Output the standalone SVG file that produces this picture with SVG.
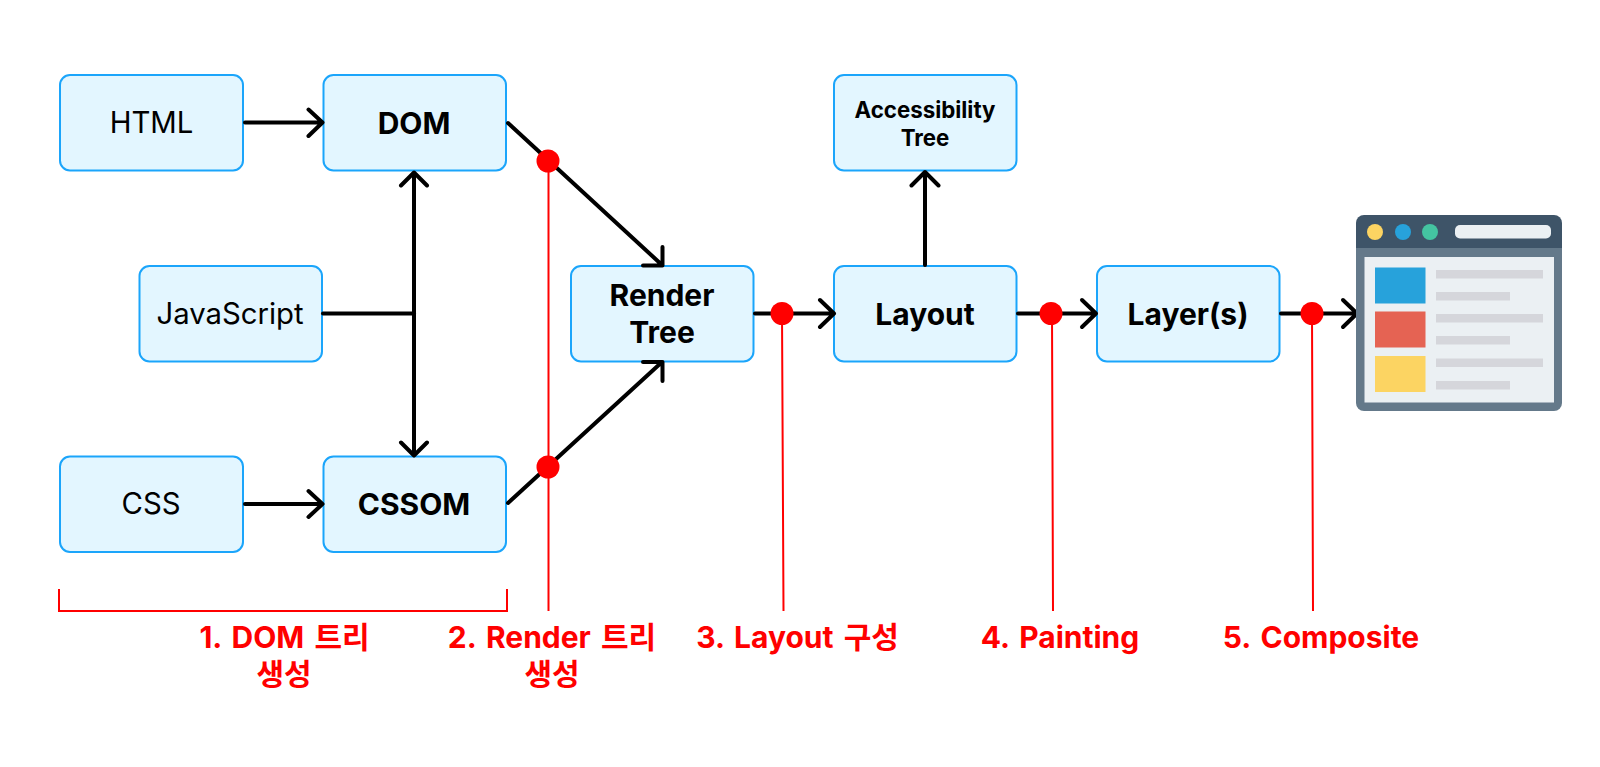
<svg xmlns="http://www.w3.org/2000/svg" width="1600" height="767" viewBox="0 0 1600 767">
<style>
.box{fill:#e3f6ff;stroke:#1ba5fb;stroke-width:2}
.t{font-family:Inter,"Noto Sans CJK KR",sans-serif;text-anchor:middle;fill:#000}
.r{font-size:29.300px}
.b{font-size:30px;font-weight:700}
.s{font-size:22.300px;font-weight:700}
.lab{font-family:Inter,"Noto Sans CJK KR",sans-serif;text-anchor:middle;fill:#f00;font-size:30px;font-weight:700;word-spacing:3px}
.c{fill:none;stroke:#000;stroke-width:4;stroke-linecap:round;stroke-linejoin:round}
.rl{fill:none;stroke:#f00;stroke-width:2}
</style>
<rect width="1600" height="767" fill="#fff"/>
<g id="html"><rect class="box" x="60" y="75" width="183" height="95.500" rx="10"/><text class="t r" x="151.500" y="133">HTML</text></g>
<g id="dom"><rect class="box" x="323.500" y="75" width="182.500" height="95.500" rx="10"/><text class="t b" x="414" y="133.500">DOM</text></g>
<g id="javascript"><rect class="box" x="139.500" y="266" width="182.500" height="95.500" rx="10"/><text class="t r" x="230" y="324">JavaScript</text></g>
<g id="css"><rect class="box" x="60" y="456.500" width="183" height="95.500" rx="10"/><text class="t r" x="151" y="514">CSS</text></g>
<g id="cssom"><rect class="box" x="323.500" y="456.500" width="182.500" height="95.500" rx="10"/><text class="t b" x="414" y="514.500">CSSOM</text></g>
<g id="render-tree"><rect class="box" x="571" y="266" width="182.500" height="95.500" rx="10"/><text class="t b" x="662" y="306">Render</text><text class="t b" x="662" y="343">Tree</text></g>
<g id="layout"><rect class="box" x="834" y="266" width="182.500" height="95.500" rx="10"/><text class="t b" x="925" y="324.500">Layout</text></g>
<g id="layers"><rect class="box" x="1097" y="266" width="182.500" height="95.500" rx="10"/><text class="t b" x="1188" y="324.500">Layer(s)</text></g>
<g id="accessibility-tree"><rect class="box" x="834" y="75" width="182.500" height="95.500" rx="10"/><text class="t s" x="925" y="117.500">Accessibility</text><text class="t s" x="925" y="145.500">Tree</text></g>
<g id="connectors">
<path class="c" d="M245 122.500H322M308.500 109.500L322.500 122.500L308.500 136"/>
<path class="c" d="M245 504H322M308.500 491L322.500 504L308.500 517"/>
<path class="c" d="M414 172.500V455.500M401 185.500L414 172.500L427 185.500M401 442.500L414 455.500L427 442.500"/>
<path class="c" d="M323 313.500H414"/>
<path class="c" d="M508 123L662 265M643 265.500H662.500V247"/>
<path class="c" d="M508 503L662 362M643 362H662.500V381"/>
<path class="c" d="M755 313.500H833M820 300L834 313.500L820 327"/>
<path class="c" d="M925 265V172M911.500 185.500L925 172L938.500 185.500"/>
<path class="c" d="M1018 313.500H1096M1082 300L1096 313.500L1082 327"/>
<path class="c" d="M1281 313.500H1356M1343 300L1357 313.500L1343 327"/>
</g>
<g id="red-markers">
<path class="rl" d="M548.500 160V611M782 313L783.500 611M1052 313L1053 611M1312 313L1313 611"/>
<path class="rl" d="M59 589V611H507V589"/>
<circle cx="548" cy="161" r="11.500" fill="#f00"/>
<circle cx="548" cy="467" r="11.500" fill="#f00"/>
<circle cx="782" cy="313.500" r="11.500" fill="#f00"/>
<circle cx="1051" cy="313.500" r="11.500" fill="#f00"/>
<circle cx="1312" cy="313.500" r="11.500" fill="#f00"/>
</g>
<g id="browser">
<path d="M1356 244H1562V403a8 8 0 0 1-8 8H1364a8 8 0 0 1-8-8Z" fill="#64798a"/>
<path d="M1356 248V223a8 8 0 0 1 8-8H1554a8 8 0 0 1 8 8V248Z" fill="#3e5468"/>
<rect x="1364.500" y="257" width="189.500" height="145.500" fill="#ebf0f3"/>
<circle cx="1375" cy="232" r="8" fill="#fcd462"/>
<circle cx="1403" cy="232" r="8" fill="#27a2db"/>
<circle cx="1430" cy="232" r="8" fill="#44c4a1"/>
<rect x="1455" y="225" width="96" height="13.500" rx="5" fill="#ebf0f3"/>
<rect x="1375" y="267.500" width="50.500" height="36" fill="#27a2db"/>
<rect x="1375" y="311.500" width="50.500" height="36" fill="#e56353"/>
<rect x="1375" y="356" width="50.500" height="36" fill="#fcd462"/>
<g fill="#d5d6db">
<rect x="1436" y="270" width="107" height="8.500"/><rect x="1436" y="292" width="74" height="8.500"/>
<rect x="1436" y="314" width="107" height="8.500"/><rect x="1436" y="336" width="74" height="8.500"/>
<rect x="1436" y="358.500" width="107" height="8.500"/><rect x="1436" y="381" width="74" height="8.500"/>
</g>
</g>
<g id="labels">
<text class="lab" x="284.500" y="648">1. DOM 트리</text>
<text class="lab" x="284" y="685">생성</text>
<text class="lab" x="552" y="648">2. Render 트리</text>
<text class="lab" x="552" y="685">생성</text>
<text class="lab" x="797.500" y="648">3. Layout 구성</text>
<text class="lab" x="1060" y="648">4. Painting</text>
<text class="lab" x="1321" y="648">5. Composite</text>
</g>
</svg>
